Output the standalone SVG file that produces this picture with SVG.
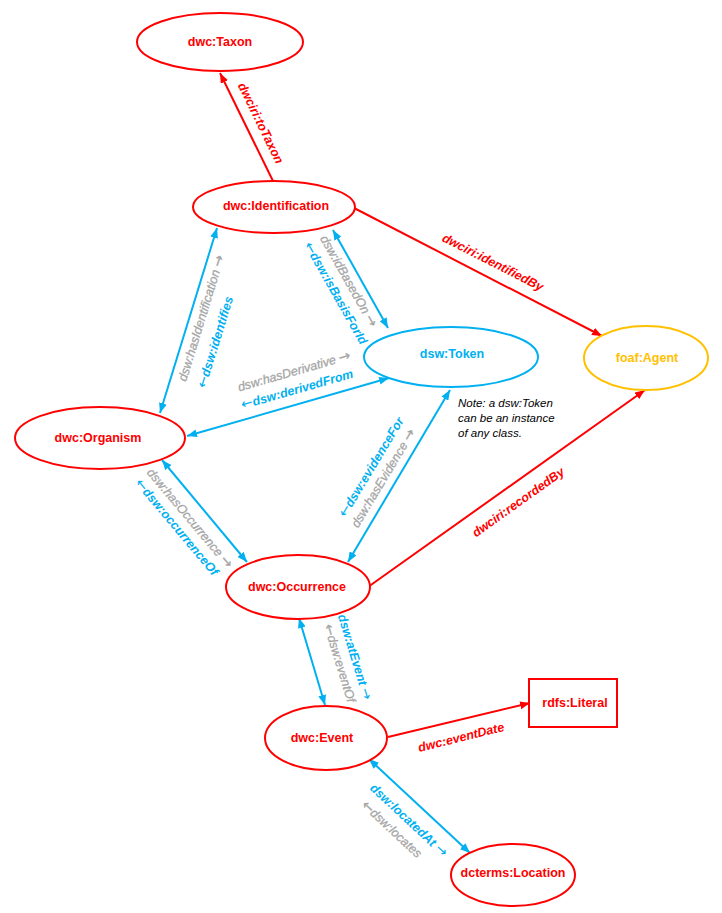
<svg xmlns="http://www.w3.org/2000/svg" width="722" height="913" viewBox="0 0 722 913">
<defs>
<style>
.bg{fill:#ffffff}
.n{fill:#ffffff;stroke-width:2}
.red{stroke:#FF0000}
.blue{stroke:#00B0F0}
.yel{stroke:#FFC000}
.nt{font-family:"Liberation Sans",Arial,sans-serif;font-size:12.5px;font-weight:bold;text-anchor:middle}
.tr{fill:#FF0000}
.tb{fill:#00B0F0}
.ty{fill:#FFC000}
.e{fill:none;stroke-width:2}
.lbl{font-family:"Liberation Sans",Arial,sans-serif;font-size:12.5px;font-style:italic;text-anchor:middle}
.lr{fill:#FF0000;font-weight:bold}
.lb{fill:#00B0F0;font-weight:bold}
.lg{fill:#A6A6A6;stroke:#A6A6A6;stroke-width:0.3}
.arw{font-family:"DejaVu Sans",sans-serif;font-style:normal;font-weight:normal;font-size:14px}
.note{font-family:"Liberation Sans",Arial,sans-serif;font-size:11.5px;font-style:italic;fill:#000000}
</style>
<marker id="ar" viewBox="0 0 10 8" refX="10" refY="4" markerWidth="10" markerHeight="8" markerUnits="userSpaceOnUse" orient="auto-start-reverse"><path d="M0,0 L10,4 L0,8 z" fill="#FF0000"/></marker>
<marker id="ab" viewBox="0 0 10 8" refX="10" refY="4" markerWidth="10" markerHeight="8" markerUnits="userSpaceOnUse" orient="auto-start-reverse"><path d="M0,0 L10,4 L0,8 z" fill="#00B0F0"/></marker>
</defs>
<rect class="bg" x="0" y="0" width="722" height="913"/>

<g id="connectors">
<line class="e red" x1="273" y1="181" x2="220" y2="73" marker-end="url(#ar)"/>
<line class="e red" x1="354" y1="208" x2="602" y2="336" marker-end="url(#ar)"/>
<line class="e blue" x1="333" y1="230" x2="388" y2="328" marker-start="url(#ab)" marker-end="url(#ab)"/>
<line class="e blue" x1="217" y1="228" x2="160" y2="413" marker-start="url(#ab)" marker-end="url(#ab)"/>
<line class="e blue" x1="389" y1="378" x2="187" y2="436" marker-start="url(#ab)" marker-end="url(#ab)"/>
<line class="e blue" x1="162" y1="460" x2="247" y2="562" marker-start="url(#ab)" marker-end="url(#ab)"/>
<line class="e blue" x1="450" y1="390" x2="348" y2="562" marker-start="url(#ab)" marker-end="url(#ab)"/>
<line class="e red" x1="368" y1="587" x2="645" y2="390" marker-end="url(#ar)"/>
<line class="e blue" x1="299" y1="618" x2="325" y2="705" marker-start="url(#ab)" marker-end="url(#ab)"/>
<line class="e red" x1="388" y1="737" x2="530" y2="703" marker-end="url(#ar)"/>
<line class="e blue" x1="369" y1="759" x2="470" y2="853" marker-start="url(#ab)" marker-end="url(#ab)"/>

<g class="lbl">
<text class="lr" transform="translate(261,123) rotate(64)" dy="4.5">dwciri:toTaxon</text>
<text class="lr" transform="translate(493,262) rotate(27)" dy="4.5">dwciri:identifiedBy</text>
<text class="lg" transform="translate(349,281) rotate(60.5)" dy="4.5">dsw:idBasedOn <tspan class="arw">→</tspan></text>
<text class="lb" transform="translate(336,293) rotate(60.5)" dy="4.5"><tspan class="arw">←</tspan>dsw:isBasisForId</text>
<text class="lg" transform="translate(201,318) rotate(-73)" dy="4.5">dsw:hasIdentification <tspan class="arw">→</tspan></text>
<text class="lb" transform="translate(215,342) rotate(-73)" dy="4.5"><tspan class="arw">←</tspan>dsw:identifies</text>
<text class="lg" transform="translate(294,371) rotate(-16)" dy="4.5">dsw:hasDerivative <tspan class="arw">→</tspan></text>
<text class="lb" transform="translate(297,389) rotate(-16)" dy="4.5"><tspan class="arw">←</tspan>dsw:derivedFrom</text>
<text class="lg" transform="translate(190,518) rotate(50)" dy="4.5">dsw:hasOccurrence <tspan class="arw">→</tspan></text>
<text class="lb" transform="translate(177,527) rotate(50)" dy="4.5"><tspan class="arw">←</tspan>dsw:occurrenceOf</text>
<text class="lb" transform="translate(371,467) rotate(-59)" dy="4.5"><tspan class="arw">←</tspan>dsw:evidenceFor</text>
<text class="lg" transform="translate(383,478) rotate(-59)" dy="4.5">dsw:hasEvidence <tspan class="arw">→</tspan></text>
<text class="lr" transform="translate(518,502) rotate(-35.5)" dy="4.5">dwciri:recordedBy</text>
<text class="lb" transform="translate(355,657) rotate(73)" dy="4.5">dsw:atEvent <tspan class="arw">→</tspan></text>
<text class="lg" transform="translate(340,663) rotate(73)" dy="4.5"><tspan class="arw">←</tspan>dsw:eventOf</text>
<text class="lr" transform="translate(461,737) rotate(-14)" dy="4.5">dwc:eventDate</text>
<text class="lb" transform="translate(409,820) rotate(43)" dy="4.5">dsw:locatedAt <tspan class="arw">→</tspan></text>
<text class="lg" transform="translate(392,829) rotate(43)" dy="4.5"><tspan class="arw">←</tspan>dsw:locates</text>
</g>
</g>

<g id="taxon"><ellipse class="n red" cx="220" cy="42" rx="83" ry="29"/><text class="nt tr" x="220" y="46">dwc:Taxon</text></g>
<g id="identification"><ellipse class="n red" cx="274" cy="207" rx="81" ry="26"/><text class="nt tr" x="276" y="210">dwc:Identification</text></g>
<g id="token"><ellipse class="n blue" cx="451" cy="357" rx="87" ry="30"/><text class="nt tb" x="452" y="358">dsw:Token</text></g>
<g id="agent"><ellipse class="n yel" cx="646" cy="358" rx="62" ry="32"/><text class="nt ty" x="647" y="362">foaf:Agent</text></g>
<g id="organism"><ellipse class="n red" cx="100" cy="438" rx="85" ry="31"/><text class="nt tr" x="98" y="442">dwc:Organism</text></g>
<g id="occurrence"><ellipse class="n red" cx="298" cy="587" rx="72" ry="32"/><text class="nt tr" x="297" y="591">dwc:Occurrence</text></g>
<g id="event"><ellipse class="n red" cx="326" cy="738" rx="61" ry="32"/><text class="nt tr" x="322" y="742">dwc:Event</text></g>
<g id="literal"><rect class="n red" x="529" y="679" width="88" height="48"/><text class="nt tr" x="575" y="707">rdfs:Literal</text></g>
<g id="location"><ellipse class="n red" cx="513" cy="875" rx="62" ry="31"/><text class="nt tr" x="513" y="877">dcterms:Location</text></g>
<g id="note"><text class="note" x="458" y="407">Note: a dsw:Token</text><text class="note" x="458" y="422">can be an instance</text><text class="note" x="458" y="437">of any class.</text></g>
</svg>
